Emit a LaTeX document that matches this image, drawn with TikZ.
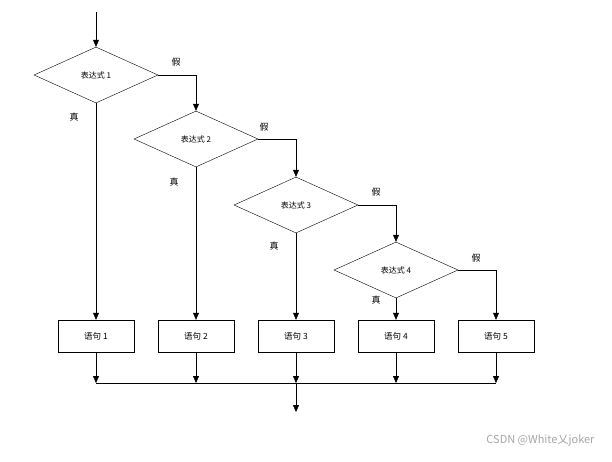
\documentclass[tikz,border=0pt]{standalone}
\usepackage{fontspec}
\setmainfont{Liberation Serif}
\newfontfamily\cjk{Noto Sans CJK SC}
\usetikzlibrary{shapes.geometric,arrows.meta}
\begin{document}
\begin{tikzpicture}[x=1pt,y=-1pt,
  dia/.style={diamond,draw,aspect=2.2,minimum width=124pt,minimum height=56pt,inner sep=0pt,font=\cjk\fontsize{8}{9}\selectfont},
  box/.style={draw,minimum width=76pt,minimum height=32pt,font=\cjk\fontsize{8.5}{10}\selectfont},
  lab/.style={font=\cjk\fontsize{9}{10}\selectfont},
  arr/.style={-{Triangle[length=7pt,width=6pt]},thin}]
\useasboundingbox (0,0) rectangle (612,461);
\coordinate (top) at (96,12);
\foreach \i/\x/\y in {1/96/75,2/196/139,3/296/205,4/396/270}
  \node[dia] (d\i) at (\x,\y) {表达式 \i};
\foreach \i/\x in {1/96,2/196,3/296,4/396,5/496}
  \node[box] (b\i) at (\x,336) {语句 \i};
\draw[arr] (top) -- (d1.north);
\draw[arr] (d1.east) -| (d2.north);
\draw[arr] (d2.east) -| (d3.north);
\draw[arr] (d3.east) -| (d4.north);
\draw[arr] (d4.east) -| (b5.north);
\foreach \i in {1,2,3,4} \draw[arr] (d\i.south) -- (b\i.north);
\coordinate (jl) at (96,383);
\coordinate (jr) at (496,383);
\coordinate (jm) at (296,383);
\coordinate (out) at (296,412);
\foreach \i/\x in {1/96,2/196,3/296,4/396,5/496}
  \draw[arr] (b\i.south) -- (\x,383);
\draw (jl) -- (jr);
\draw[arr] (jm) -- (out);
\foreach \x/\y in {176/62,264/127,376/192,476/258} \node[lab] at (\x,\y) {假};
\foreach \x/\y in {74/117,174/182,274/246,376/300} \node[lab] at (\x,\y) {真};
\node[font=\cjk\fontsize{11}{12}\selectfont,text=gray!70,anchor=east] (wm) at (598,440) {CSDN @White乂joker};
\end{tikzpicture}
\end{document}
